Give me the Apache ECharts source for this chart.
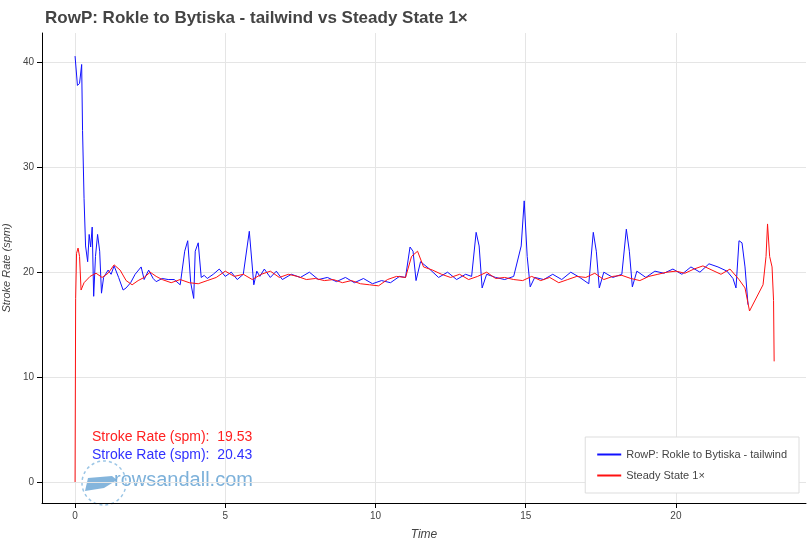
<!DOCTYPE html>
<html><head><meta charset="utf-8">
<script src="https://cdn.jsdelivr.net/npm/echarts@6/dist/echarts.min.js"></script>
<style>html,body{margin:0;padding:0;background:#fff}#c{width:809px;height:545px}</style>
</head><body><div id="c"></div>
<script>
const titleText = "RowP: Rokle to Bytiska - tailwind vs Steady State 1×";
const blueName = "RowP: Rokle to Bytiska - tailwind";
const redName = "Steady State 1×";
const xTicks = [0,5,10,15,20];
const yTicks = [0,10,20,30,40];
const blueTime = [0,0.08,0.15,0.22,0.25,0.3,0.35,0.42,0.47,0.52,0.57,0.62,0.68,0.75,0.82,0.88,0.95,1.0,1.1,1.2,1.3,1.45,1.6,1.7,1.85,2.0,2.2,2.3,2.45,2.6,2.7,2.9,3.1,3.3,3.5,3.65,3.75,3.85,3.95,4.0,4.1,4.2,4.3,4.4,4.6,4.8,5.0,5.2,5.4,5.6,5.8,5.95,6.05,6.15,6.3,6.5,6.7,6.9,7.2,7.5,7.8,8.1,8.4,8.7,9.0,9.3,9.6,9.9,10.2,10.5,10.8,11.0,11.15,11.25,11.35,11.5,11.8,12.1,12.4,12.7,13.0,13.2,13.35,13.45,13.55,13.7,14.0,14.3,14.6,14.85,14.95,15.05,15.15,15.3,15.6,15.9,16.2,16.5,16.8,17.1,17.25,17.35,17.45,17.6,17.9,18.2,18.35,18.45,18.55,18.7,19.0,19.3,19.6,19.9,20.2,20.5,20.8,21.1,21.4,21.7,21.9,22.0,22.1,22.2,22.3,22.4];
const blueRate = [40.6,37.8,38.0,39.8,33.5,27,22.5,21.0,23.6,22.4,24.3,17.7,21.5,23.6,22.0,18.0,19.5,19.6,20.2,19.8,20.6,19.5,18.3,18.5,19.0,19.8,20.5,19.3,20.2,19.4,19.1,19.4,19.3,19.3,18.8,22.0,23.0,19.0,17.5,22.0,22.8,19.5,19.7,19.4,19.8,20.3,19.6,20.0,19.3,19.8,23.9,18.8,20.1,19.6,20.3,19.5,20.1,19.3,19.8,19.5,20.0,19.3,19.5,19.1,19.5,19.0,19.4,18.9,19.2,19.0,19.6,19.5,22.4,22.0,19.2,21.0,20.3,19.5,20.0,19.3,19.8,19.6,23.8,22.5,18.5,19.8,19.5,19.3,19.6,22.5,26.8,21.5,18.6,19.5,19.3,19.8,19.3,20.0,19.5,18.9,23.8,22.0,18.5,20.0,19.5,19.8,24.1,22.0,18.6,20.1,19.5,20.1,19.9,20.3,19.8,20.5,20.0,20.8,20.5,20.1,19.4,18.5,23.0,22.8,20.5,16.9];
const redTime = [0,0.02,0.05,0.1,0.15,0.2,0.3,0.5,0.7,0.9,1.1,1.3,1.5,1.7,1.9,2.1,2.3,2.5,2.7,2.9,3.2,3.5,3.8,4.1,4.4,4.7,5.0,5.3,5.6,5.9,6.2,6.5,6.8,7.1,7.4,7.7,8.0,8.3,8.6,8.9,9.2,9.5,9.8,10.1,10.4,10.7,11.0,11.2,11.4,11.6,11.9,12.2,12.5,12.8,13.1,13.4,13.7,14.0,14.3,14.6,14.9,15.2,15.5,15.8,16.1,16.4,16.7,17.0,17.3,17.6,17.9,18.2,18.5,18.8,19.1,19.4,19.7,20.0,20.3,20.6,20.9,21.2,21.5,21.8,22.1,22.3,22.45,22.9,23.0,23.05,23.12,23.2,23.25,23.27];
const redRate = [0,17.5,21.8,22.3,21.5,18.3,19.0,19.6,19.9,19.5,19.9,20.7,20.2,19.2,18.8,19.2,19.5,20.0,19.6,19.3,19.0,19.3,19.0,18.9,19.2,19.5,20.1,19.6,19.8,19.3,19.8,20.1,19.5,19.8,19.6,19.3,19.4,19.2,19.3,19.0,19.2,18.9,18.8,18.7,19.3,19.6,19.5,21.5,22.0,20.5,20.2,19.8,19.5,19.8,19.3,19.6,20.0,19.4,19.5,19.3,19.2,19.6,19.2,19.5,19.0,19.3,19.6,19.5,19.9,19.3,19.6,19.7,19.4,19.2,19.6,19.8,20.0,20.1,19.9,20.3,20.6,20.2,19.8,20.3,19.3,18.5,16.3,18.8,21.5,24.6,21.5,20.5,17.3,11.5];
const statRed = "Stroke Rate (spm):  19.53";
const statBlue = "Stroke Rate (spm):  20.43";

const chart = echarts.init(document.getElementById('c'));
const gridLine = {show:true, lineStyle:{color:'#e5e5e5'}};
chart.setOption({
  animation:false,
  title:{text:titleText,left:40,top:5,textStyle:{fontFamily:'Liberation Sans',fontSize:17,fontWeight:'bold',color:'#444'}},
  grid:{left:42,right:3,top:33,bottom:42,outerBoundsMode:'none',containLabel:false},
  xAxis:{type:'value',min:-1.1,max:24.33,name:'Time',nameLocation:'middle',nameGap:26,
    nameTextStyle:{fontStyle:'italic',color:'#444',fontSize:12,fontFamily:'Liberation Sans'},
    axisLine:{onZero:false,lineStyle:{color:'#000'}},
    axisTick:{customValues:xTicks,lineStyle:{color:'#000'}},
    axisLabel:{customValues:xTicks,color:'#444',fontSize:10,fontFamily:'Liberation Sans'},
    splitLine:gridLine},
  yAxis:{type:'value',min:-2,max:42.8,name:'Stroke Rate (spm)',nameLocation:'middle',nameGap:23,
    nameTextStyle:{fontStyle:'italic',color:'#444',fontSize:11,fontFamily:'Liberation Sans'},
    axisLine:{show:true,onZero:false,lineStyle:{color:'#000'}},
    axisTick:{show:true,customValues:yTicks,lineStyle:{color:'#000'}},
    axisLabel:{customValues:yTicks,color:'#444',fontSize:10,fontFamily:'Liberation Sans'},
    splitLine:gridLine},
  legend:{orient:'vertical',right:10,bottom:52,padding:[12,12,12,12],itemGap:10,
    borderColor:'#ddd',borderWidth:1,backgroundColor:'#fff',itemWidth:24,itemHeight:2,icon:'rect',
    textStyle:{fontFamily:'Liberation Sans',fontSize:11,color:'#444'},
    data:[blueName,redName]},
  graphic:[
    {type:'text',left:92,top:430,style:{text:statRed,fill:'#ff2020',font:'14px Liberation Sans'}},
    {type:'text',left:92,top:448,style:{text:statBlue,fill:'#3030ff',font:'14px Liberation Sans'}},
    {type:'circle',shape:{cx:104,cy:483,r:22},style:{fill:'none',stroke:'#9cc6e6',lineWidth:1.5,lineDash:[3,3]}},
    {type:'polygon',shape:{points:[[88,478],[112,476],[117,480],[104,488],[85,491]]},style:{fill:'#6fa8d6',opacity:0.85}},
    {type:'text',left:114,top:470,style:{text:'rowsandall.com',fill:'#6fa8d6',font:'20px Liberation Sans',opacity:0.9}}
  ],
  series:[
    {name:blueName,type:'line',showSymbol:false,lineStyle:{color:'#1010ff',width:1},itemStyle:{color:'#1010ff'},
     data:blueTime.map((t,i)=>[t,blueRate[i]])},
    {name:redName,type:'line',showSymbol:false,lineStyle:{color:'#ff1010',width:1},itemStyle:{color:'#ff1010'},
     data:redTime.map((t,i)=>[t,redRate[i]])}
  ]
});
</script></body></html>
